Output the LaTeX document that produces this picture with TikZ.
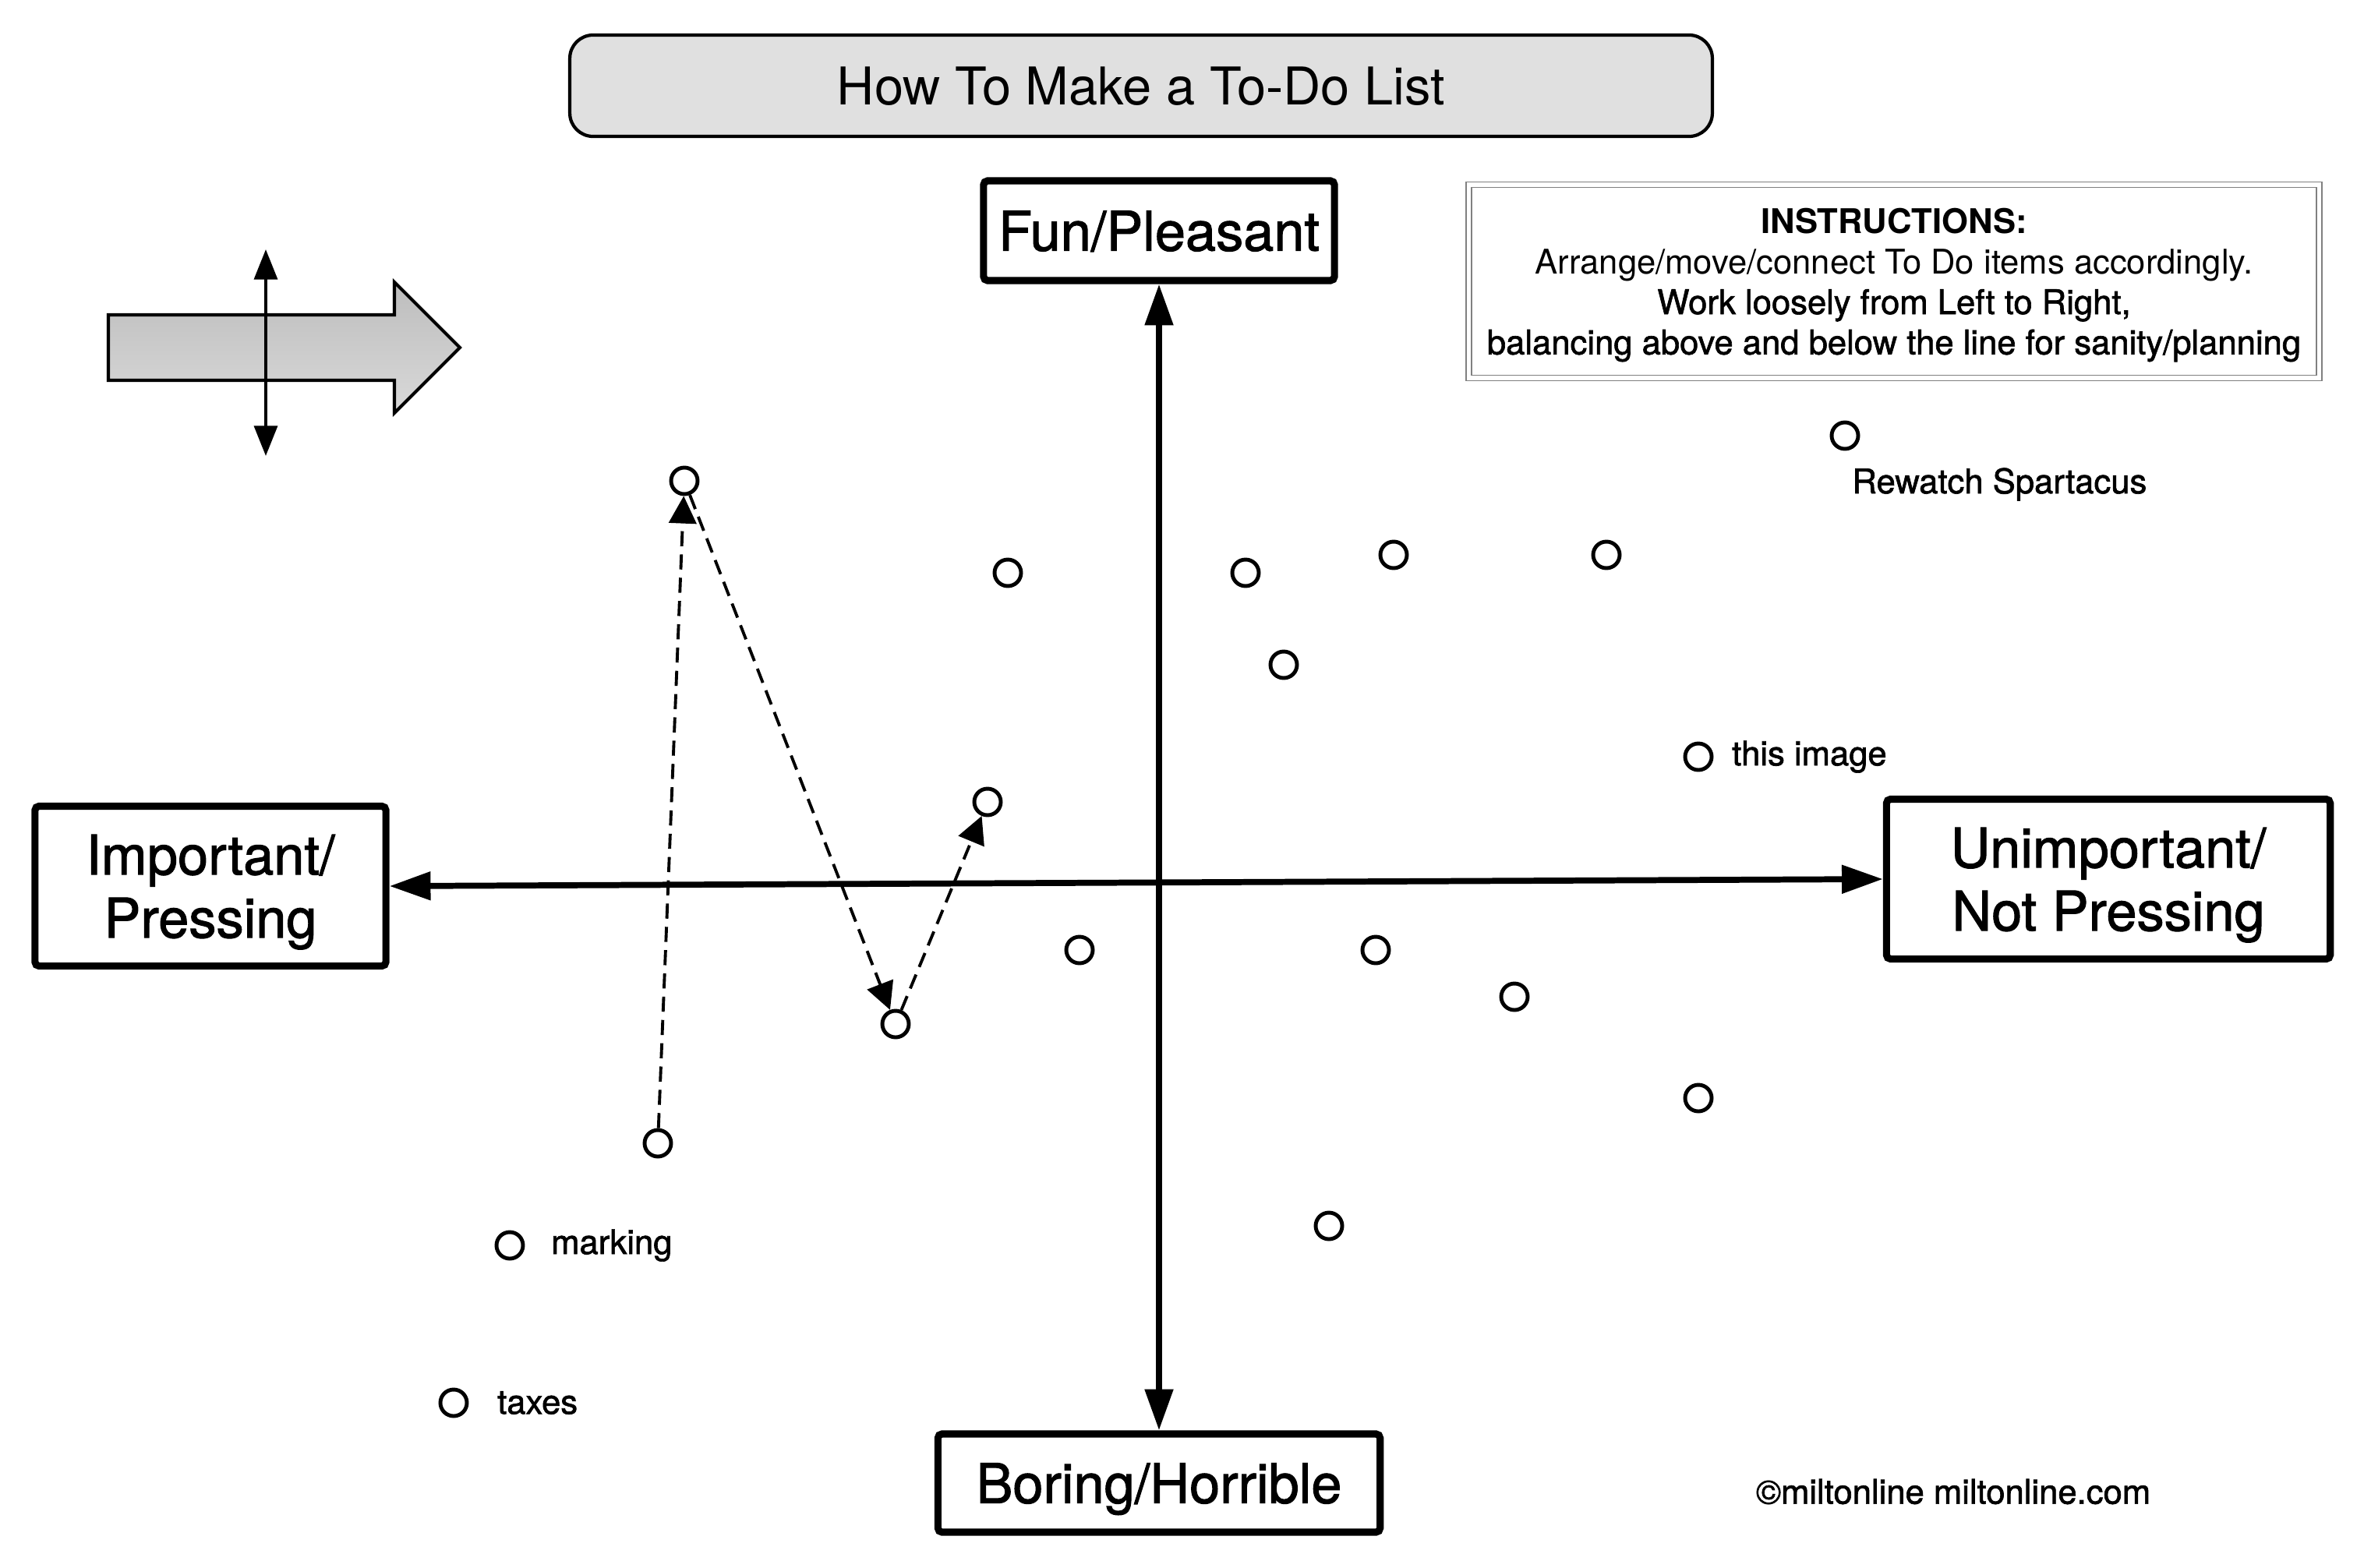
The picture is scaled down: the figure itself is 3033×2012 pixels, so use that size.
\documentclass[tikz,border=0pt]{standalone}
\usepackage{fontspec}
\setmainfont{TeX Gyre Heros}
\newfontface\medfont{TeX Gyre Heros}[FakeBold=1.5]
\usetikzlibrary{arrows.meta,positioning}
\definecolor{title_gray}{HTML}{E0E0E0}
\definecolor{arrow_top}{HTML}{BDBDBD}
\definecolor{arrow_bottom}{HTML}{D9D9D9}

\begin{document}
\begin{tikzpicture}[x=0.01cm, y=-0.01cm,
    todo/.style={circle, draw, line width=1.4pt, minimum size=0.34cm, inner sep=0pt},
    axisbox/.style={draw, line width=2.6pt, rounded corners=1.5pt, align=center, inner sep=0pt, text depth=0pt, font=\medfont\fontsize{20}{23}\selectfont},
    axisline/.style={line width=2.2pt, {Triangle[length=15pt,width=10pt]}-{Triangle[length=15pt,width=10pt]}},
    dashlink/.style={line width=1.1pt, dash pattern=on 5.5pt off 3pt, -{Triangle[length=10pt,width=10pt]}},
    lbl/.style={inner sep=0pt, font=\medfont\fontsize{12.4}{14.7}\selectfont}]
        \useasboundingbox (0,0) rectangle (3033,2012);
        % Title
        \node[draw, line width=1.2pt, fill=title_gray, rounded corners=8.5pt, minimum width=14.65cm, minimum height=1.3cm, text depth=0pt, font=\fontsize{19}{22}\selectfont] (title) at (1464,110) {How To Make a To-Do List};
        % Instructions
        \node[lbl, draw=gray, double=white, double distance=1.5pt, line width=0.5pt, minimum width=10.9cm, minimum height=2.48cm, align=center, text depth=0pt] (instr) at (2430,361) {{\normalfont\bfseries INSTRUCTIONS:}\\ {\normalfont Arrange/move/connect To Do items accordingly.}\\ Work loosely from Left to Right,\\ balancing above and below the line for sanity/planning};
        % Axis labels
        \node[axisbox, minimum width=4.5cm, minimum height=1.28cm] (fun) at (1487,296) {Fun/Pleasant};
        \node[axisbox, minimum width=5.67cm, minimum height=1.26cm] (bor) at (1487,1903) {Boring/Horrible};
        \node[axisbox, minimum width=4.5cm, minimum height=2.05cm] (imp) at (270,1137) {Important/\\Pressing};
        \node[axisbox, minimum width=5.69cm, minimum height=2.05cm] (unimp) at (2705,1128) {Unimportant/\\Not Pressing};
        % Axes
        \draw[axisline] (fun.south) -- (bor.north);
        \draw[axisline] (imp.east) -- (unimp.west);
        % Direction icon
        \draw[line width=1.2pt, top color=arrow_top, bottom color=arrow_bottom] (139,404) -- (506,404) -- (506,362) -- (590,446) -- (506,530) -- (506,488) -- (139,488) -- cycle;
        \coordinate (up) at (341,320);
        \coordinate (down) at (341,585);
        \draw[line width=1.1pt, {Triangle[length=11pt,width=8.5pt]}-{Triangle[length=11pt,width=8.5pt]}] (up) -- (down);
        % To-do items
        \node[todo] (a) at (878,617) {};
        \node[todo] (b) at (1293,735) {};
        \node[todo] (c) at (1598,735) {};
        \node[todo] (d) at (1788,712) {};
        \node[todo] (e) at (2061,712) {};
        \node[todo] (f) at (2367,559) {};
        \node[todo] (g) at (1647,853) {};
        \node[todo] (h) at (2179,971) {};
        \node[todo] (i) at (1267,1029) {};
        \node[todo] (j) at (1385,1219) {};
        \node[todo] (k) at (1765,1219) {};
        \node[todo] (l) at (1943,1279) {};
        \node[todo] (m) at (1149,1314) {};
        \node[todo] (n) at (2179,1409) {};
        \node[todo] (o) at (844,1467) {};
        \node[todo] (p) at (1705,1573) {};
        \node[todo] (q) at (654,1598) {};
        \node[todo] (r) at (582,1800) {};
        % Item labels
        \node[lbl, below right=0.27cm and -0.05cm of f] (spartacus) {Rewatch Spartacus};
        \node[lbl, right=0.23cm of h] (img) {this image};
        \node[lbl, right=0.33cm of q] (marking) {marking};
        \node[lbl, right=0.36cm of r] (taxes) {taxes};
        % Connections
        \draw[dashlink] (o) -- (a);
        \draw[dashlink] (a) -- (m);
        \draw[dashlink] (m) -- (i);
        % Credit
        \node[lbl] (credit) at (2506,1914) {©miltonline miltonline.com};
\end{tikzpicture}
\end{document}
